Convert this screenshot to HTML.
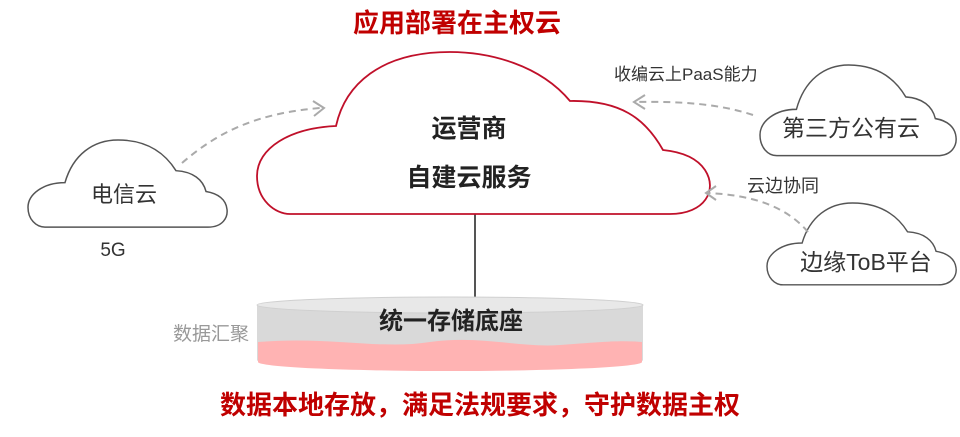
<!DOCTYPE html>
<html><head><meta charset="utf-8"><style>
body{margin:0;background:#fff}
svg{display:block}
text{font-family:"Liberation Sans","Noto Sans CJK SC",sans-serif}
</style></head><body>
<svg width="960" height="437" viewBox="0 0 960 437" xmlns="http://www.w3.org/2000/svg">
<defs>
<path id="c" d="M17,88 L180,88 C195,88 200,78 199,70 C198,60 190,54 178,52 C175,40 165,32 148,31 C135,10 115,0 90,0 C65,0 45,15 37,43 C15,43 0,55 0,68 C0,80 8,88 17,88 Z"/>
</defs>
<text x="457" y="32" text-anchor="middle" font-size="26" font-weight="bold" fill="#c00000">应用部署在主权云</text>
<line x1="475" y1="214" x2="475" y2="300" stroke="#555" stroke-width="2"/>
<path d="M290,214 L670,214 C705,214 718,190 705,170 C697,158 683,152 663,150 C645,118 620,100 570,101 C540,65 490,52 450,52 C380,52 345,85 336,126 C290,128 257,148 257,176 C257,200 275,214 290,214 Z" fill="#fff" stroke="#c0102a" stroke-width="1.8"/>
<text x="469" y="137" text-anchor="middle" font-size="25" font-weight="bold" fill="#222">运营商</text>
<text x="469" y="186" text-anchor="middle" font-size="25" font-weight="bold" fill="#222">自建云服务</text>
<g transform="translate(28,140) scale(1,0.99)"><use href="#c" fill="#fff" stroke="#555" stroke-width="1.5"/></g>
<text x="124" y="202" text-anchor="middle" font-size="22" fill="#333">电信云</text>
<text x="113" y="256" text-anchor="middle" font-size="19" fill="#333">5G</text>
<g transform="translate(760,65) scale(0.985,1.03)"><use href="#c" fill="#fff" stroke="#555" stroke-width="1.5"/></g>
<text x="851" y="136" text-anchor="middle" font-size="23" fill="#333">第三方公有云</text>
<g transform="translate(767,203) scale(0.95,0.93)"><use href="#c" fill="#fff" stroke="#555" stroke-width="1.5"/></g>
<text x="866" y="270" text-anchor="middle" font-size="23" fill="#333">边缘ToB平台</text>
<g fill="none" stroke="#aaa" stroke-width="2" stroke-dasharray="7,5">
<path d="M182,163 C220,130 260,113 320,108"/>
<path d="M753,115 C720,104 680,101 636,102"/>
<path d="M808,232 C785,205 750,195 708,193"/>
</g>
<g fill="none" stroke="#aaa" stroke-width="2">
<path d="M313,101 L324,108 L314,116"/>
<path d="M645,95 L634,102 L645,109"/>
<path d="M716,186 L706,193 L716,200"/>
</g>
<text x="614" y="80" font-size="17" fill="#333">收编云上PaaS能力</text>
<text x="747" y="192" font-size="18" fill="#333">云边协同</text>
<path d="M257,305 L257,360 A193,10 0 0 0 643,360 L643,305 Z" fill="#d9d9d9"/>
<path d="M258,342 C330,336 380,350 430,342 C480,335 520,348 560,345 C600,342 620,340 642,342 L642,362 A192,9 0 0 1 258,362 Z" fill="#ffb3b3"/>
<ellipse cx="450" cy="305" rx="193" ry="8" fill="#e8e8e8" stroke="#d0d0d0"/>
<text x="451" y="329" text-anchor="middle" font-size="24" font-weight="bold" fill="#222">统一存储底座</text>
<text x="211" y="340" text-anchor="middle" font-size="19" fill="#999">数据汇聚</text>
<text x="480" y="414" text-anchor="middle" font-size="26" font-weight="bold" fill="#c00000">数据本地存放，满足法规要求，守护数据主权</text>
</svg>
</body></html>
